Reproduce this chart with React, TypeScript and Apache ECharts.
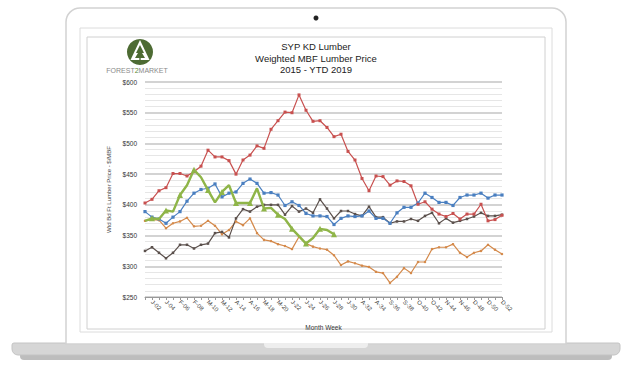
import React, { useEffect, useRef } from "react";
import * as echarts from "echarts";

const weekLabels = [
  "J-01","J-02","J-03","J-04","F-05","F-06","F-07","F-08","M-09","M-10","M-11","M-12","M-13",
  "A-14","A-15","A-16","A-17","M-18","M-19","M-20","M-21","J-22","J-23","J-24","J-25","J-26",
  "J-27","J-28","J-29","J-30","J-31","A-32","A-33","A-34","A-35","S-36","S-37","S-38","S-39",
  "O-40","O-41","O-42","O-43","N-44","N-45","N-46","N-47","D-48","D-49","D-50","D-51","D-52",
];

const s2015 = [374,376,375,362,370,373,379,365,366,374,366,352,359,373,367,378,354,343,341,336,333,328,348,337,332,329,327,318,302,308,305,301,299,291,289,273,283,297,289,307,307,328,331,331,336,322,315,322,325,335,327,320];
const s2016 = [325,331,322,313,322,335,335,329,335,337,354,356,347,378,393,389,397,400,400,400,384,398,389,394,387,409,394,378,390,390,385,382,397,380,380,370,373,373,377,374,382,387,370,378,371,374,377,381,387,382,382,384];
const s2017 = [389,380,377,370,380,389,406,419,425,427,434,413,419,421,435,442,435,419,420,416,399,405,399,386,382,382,381,368,378,382,381,382,390,378,378,370,387,396,396,403,419,412,404,404,399,412,416,416,419,411,416,416];
const s2018 = [403,409,423,428,451,451,447,454,463,489,478,478,472,450,473,481,496,492,523,537,551,550,579,554,536,537,526,511,515,487,473,443,423,447,446,432,439,438,431,401,405,393,385,381,386,377,385,385,401,374,376,383];
const s2019 = [374,378,377,391,389,416,432,457,445,424,404,421,432,403,403,403,427,394,395,384,377,361,349,337,346,361,359,352];

const titleLines = ["SYP KD Lumber", "Weighted MBF Lumber Price", "2015 - YTD 2019"];
const yName = "Wtd Bd Ft Lumber Price - $/MBF";
const xName = "Month Week";

const FONT = "'Liberation Sans', Arial, sans-serif";

export default function App() {
  const ref = useRef<HTMLDivElement>(null);
  useEffect(() => {
    document.body.style.margin = "0";
    const chart = echarts.init(ref.current!, null, { renderer: "svg" });
    const line = (name: string, data: number[], color: string, symbol: string, size: number, width: number, z: number) => ({
      name,
      type: "line",
      data,
      z,
      symbol,
      symbolSize: size,
      showSymbol: true,
      lineStyle: { color, width },
      itemStyle: { color, borderWidth: 0 },
      emphasis: { disabled: true },
    });
    chart.setOption({
      animation: false,
      backgroundColor: "transparent",
      textStyle: { fontFamily: FONT },
      title: {
        text: titleLines.join("\n"),
        left: "center",
        top: 36,
        textStyle: { fontSize: 9.5, fontWeight: "normal", color: "#222", lineHeight: 11.5, fontFamily: FONT },
      },
      grid: { left: 145, right: 130, top: 82, bottom: 95, containLabel: false },
      xAxis: {
        type: "category",
        data: weekLabels,
        boundaryGap: false,
        name: xName,
        nameLocation: "middle",
        nameGap: 27,
        nameTextStyle: { fontSize: 6.5, color: "#333", fontFamily: FONT },
        axisLine: { lineStyle: { color: "#999", width: 1 } },
        axisTick: { show: true, interval: 0, length: 3, lineStyle: { color: "#999" } },
        axisLabel: {
          interval: (i: number) => i % 2 === 1,
          rotate: -45,
          fontSize: 6,
          color: "#444",
          margin: 4,
          fontFamily: FONT,
        },
        splitLine: { show: false },
      },
      yAxis: {
        type: "value",
        min: 250,
        max: 600,
        interval: 50,
        name: yName,
        nameLocation: "middle",
        nameGap: 23,
        nameTextStyle: { fontSize: 6, color: "#444", fontFamily: FONT },
        axisLine: { show: false },
        axisTick: { show: false },
        axisLabel: { formatter: "${value}", fontSize: 6.5, color: "#333", margin: 8, fontFamily: FONT },
        splitLine: { show: true, lineStyle: { color: "#c4c4c4", width: 1.5 } },
        minorTick: { show: false, splitNumber: 5 },
        minorSplitLine: { show: true, lineStyle: { color: "#e6e6e6", width: 1 } },
      },
      graphic: [
        // base shadow
        { type: "rect", z: -10, shape: { x: 20, y: 352, width: 592, height: 8, r: 4 }, style: { fill: "#bdbdbd" } },
        // base
        { type: "rect", z: -9, shape: { x: 12, y: 343, width: 608, height: 12, r: [2, 2, 6, 6] }, style: { fill: "#d6d6d6", stroke: "#c4c4c4", lineWidth: 1 } },
        { type: "rect", z: -8, shape: { x: 264, y: 343, width: 104, height: 5, r: [0, 0, 4, 4] }, style: { fill: "#eeeeee" } },
        // lid
        { type: "rect", z: -9, shape: { x: 66, y: 8, width: 500, height: 336, r: [14, 14, 0, 0] }, style: { fill: "#ffffff", stroke: "#d2d2d2", lineWidth: 1.5 } },
        { type: "circle", z: -8, shape: { cx: 316, cy: 18, r: 2.5 }, style: { fill: "#222" } },
        // screen
        { type: "rect", z: -8, shape: { x: 80, y: 28, width: 472, height: 304 }, style: { fill: "#ffffff", stroke: "#dcdcdc", lineWidth: 1 } },
        { type: "rect", z: -7, shape: { x: 87, y: 37, width: 458, height: 292 }, style: { fill: "#ffffff", stroke: "#d0d0d0", lineWidth: 1 } },
        // logo
        { type: "circle", z: 5, shape: { cx: 140, cy: 52, r: 13 }, style: { fill: "#4d6b33" } },
        { type: "polygon", z: 6, shape: { points: [[140, 40], [149.5, 60], [130.5, 60]] }, style: { fill: "#ffffff" } },
        { type: "polygon", z: 7, shape: { points: [[140, 45], [144, 53], [142, 53], [145, 58], [135, 58], [138, 53], [136, 53]] }, style: { fill: "#4d6b33" } },
        { type: "rect", z: 7, shape: { x: 139.3, y: 57, width: 1.4, height: 3 }, style: { fill: "#4d6b33" } },
        {
          type: "text",
          z: 5,
          x: 137,
          y: 70,
          style: {
            text: "{a|FOREST}{b|2}{a|MARKET}",
            align: "center",
            verticalAlign: "middle",
            rich: {
              a: { fontSize: 7, fill: "#8a8a8a", fontFamily: FONT, letterSpacing: 0.3 },
              b: { fontSize: 7, fill: "#5c8a32", fontFamily: FONT },
            },
          },
        },
      ],
      series: [
        line("2015", s2015, "#d4894a", "circle", 2.5, 1.2, 3),
        line("2016", s2016, "#5b504c", "rect", 2.5, 1.2, 3),
        line("2017", s2017, "#4a7fc0", "rect", 3.2, 1.2, 3),
        line("2018", s2018, "#c8504f", "rect", 3, 1.2, 3),
        line("2019", s2019, "#8fb548", "triangle", 6, 2.4, 4),
      ],
    });
    return () => chart.dispose();
  }, []);
  return <div ref={ref} style={{ position: "absolute", left: 0, top: 0, width: 632, height: 392 }} />;
}
